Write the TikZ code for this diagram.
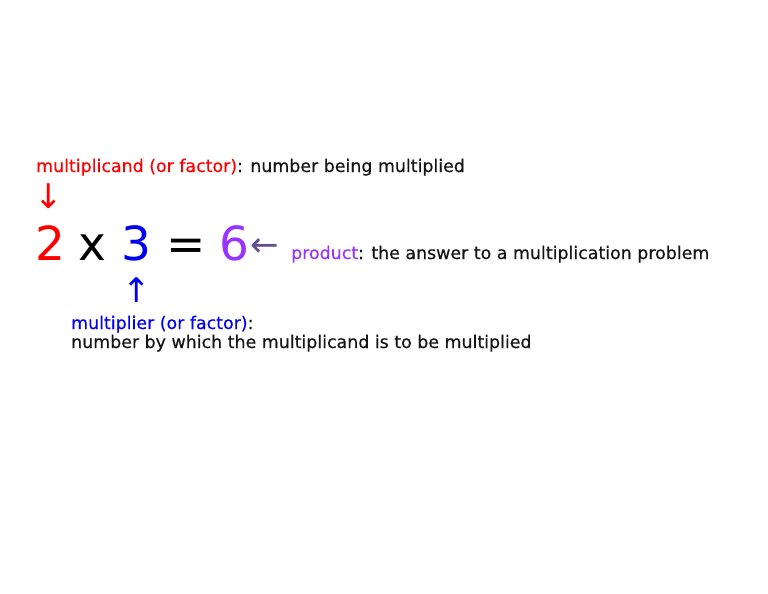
\documentclass[tikz,border=0pt]{standalone}
\usepackage{fontspec}
\setmainfont{DejaVu Sans}
\newfontfamily\heavyfont[FakeBold=0.4]{DejaVu Sans}
\usepackage{xcolor}

\definecolor{mred}{RGB}{255,0,0}
\definecolor{mblue}{RGB}{0,0,240}
\definecolor{mpurple}{RGB}{153,51,255}
\definecolor{marrow}{RGB}{98,78,140}
\definecolor{mtext}{RGB}{20,20,20}

\tikzset{
	lbl/.style={inner sep=0pt, anchor=base west, text=mtext, font=\heavyfont\fontsize{17.4}{20}\selectfont},
	digit/.style={inner sep=0pt, anchor=base, font=\fontsize{47}{56}\selectfont},
	glyph/.style={inner sep=0pt, font=\fontsize{34}{40}\selectfont}
}

\begin{document}
\begin{tikzpicture}[x=1pt,y=-1pt]
	\useasboundingbox [fill=white] (0,0) rectangle (768,594);

	%multiplicand
	\node [lbl] (mcand) at (36,172) {\textcolor{mred}{multiplicand (or factor)}: number being multiplied};
	\node [glyph,text=mred] (downarr) at (49,196) {↓};

	%equation
	\node [digit,text=mred] (two) at (50,260) {2};
	\node [digit,text=black] (times) at (92,260) {x};
	\node [digit,text=mblue] (three) at (136.5,260) {3};
	\node [digit,text=black] (equals) at (186,260) {=};
	\node [digit,text=mpurple] (six) at (234,260) {6};

	%product
	\node [glyph,text=marrow] (leftarr) at (265,248) {←};
	\node [lbl] (prod) at (291,259) {\textcolor{mpurple}{product}: the answer to a multiplication problem};

	%multiplier
	\node [glyph,text=mblue] (uparr) at (137,290) {↑};
	\node [lbl] (mplier) at (71,329) {\textcolor{mblue}{multiplier (or factor)}:};
	\node [lbl] (mplier2) at (71,348) {number by which the multiplicand is to be multiplied};
\end{tikzpicture}
\end{document}
